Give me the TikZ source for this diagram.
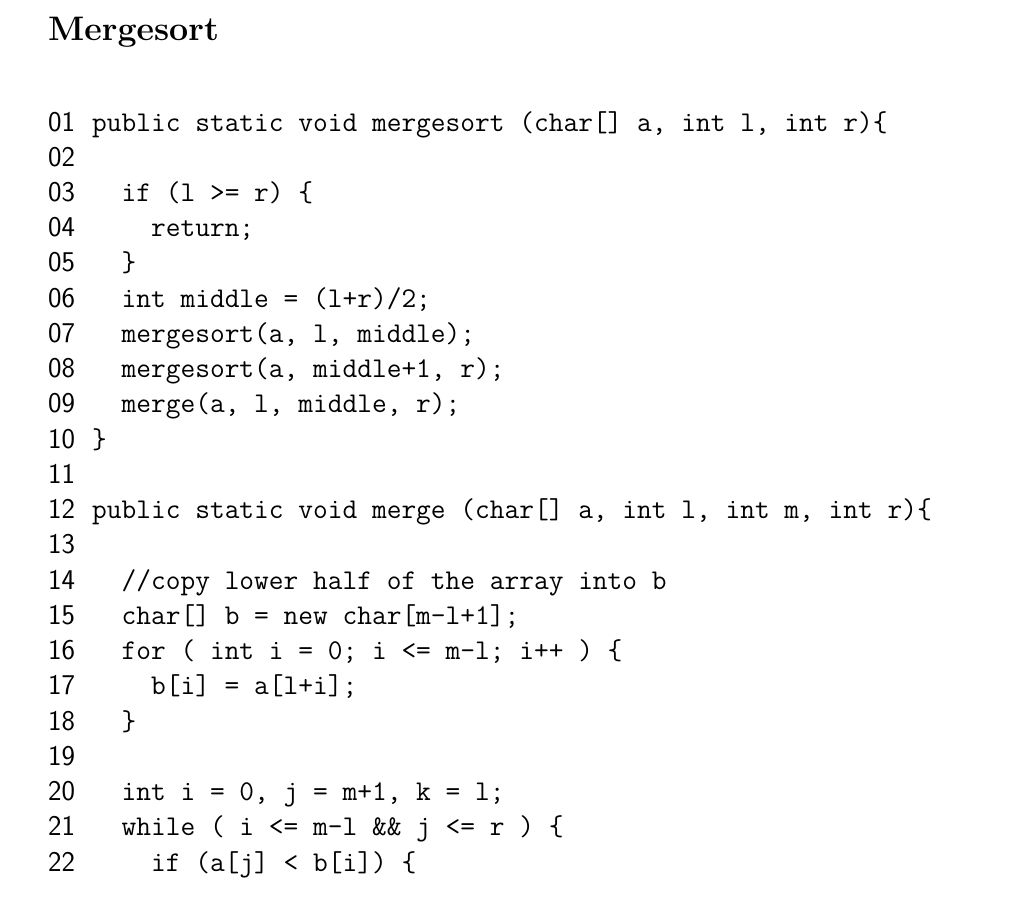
\documentclass[tikz,border=0pt]{standalone}
\begin{document}
\begin{tikzpicture}[x=1pt,y=1pt,
  num/.style={anchor=base west,inner sep=0,font=\fontsize{28.6}{34}\sffamily},
  code/.style={anchor=base west,inner sep=0,font=\fontsize{28.6}{34}\ttfamily}]
\useasboundingbox (0,0) rectangle (1024,-910);
\node[anchor=base west,inner sep=0,font=\fontsize{34}{40}\bfseries] (title) at (48,-40) {Mergesort};
\foreach \i/\t in {
01/{public static void mergesort (char[] a, int l, int r)\{},
02/{},
03/{\ \ if (l >= r) \{},
04/{\ \ \ \ return;},
05/{\ \ \}},
06/{\ \ int middle = (l+r)/2;},
07/{\ \ mergesort(a, l, middle);},
08/{\ \ mergesort(a, middle+1, r);},
09/{\ \ merge(a, l, middle, r);},
10/{\}},
11/{},
12/{public static void merge (char[] a, int l, int m, int r)\{},
13/{},
14/{\ \ //copy lower half of the array into b},
15/{\ \ char[] b = new char[m-l+1];},
16/{\ \ for ( int i = 0; i <= m-l; i++ ) \{},
17/{\ \ \ \ b[i] = a[l+i];},
18/{\ \ \}},
19/{},
20/{\ \ int i = 0, j = m+1, k = l;},
21/{\ \ while ( i <= m-l \&\& j <= r ) \{},
22/{\ \ \ \ if (a[j] < b[i]) \{}} {
  \pgfmathsetmacro\yy{-131-35.24*(\the\numexpr 1\i-101\relax)}
  \node[num] (n\i) at (48,\yy) {\i};
  \node[code] (c\i) at (92,\yy) {\t\strut};
}
\end{tikzpicture}
\end{document}
